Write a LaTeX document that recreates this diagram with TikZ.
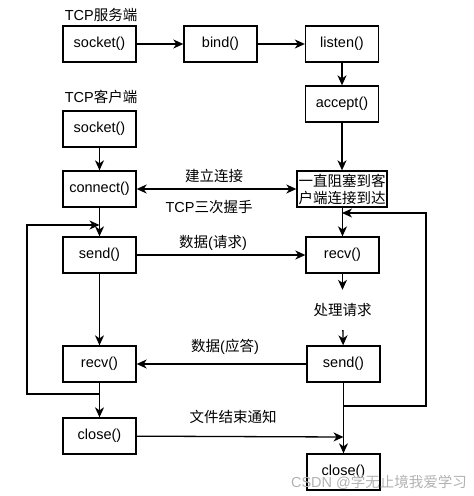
\documentclass[tikz,border=0pt]{standalone}
\usepackage{fontspec}
\setmainfont{Liberation Sans}
\newfontfamily\cjk{Noto Sans CJK SC}
\usetikzlibrary{arrows.meta}
\tikzset{
  box/.style={draw, line width=1.3pt, minimum width=73pt, minimum height=36pt, inner sep=0pt, font=\fontsize{14.5}{17}\selectfont},
  lbl/.style={inner sep=0pt, font=\fontsize{14.5}{17}\selectfont},
  arr/.style={line width=1.3pt, -{Stealth[length=10pt,width=9pt,inset=3pt]}},
  darr/.style={line width=1.3pt, {Stealth[length=10pt,width=9pt,inset=3pt]}-{Stealth[length=10pt,width=9pt,inset=3pt]}},
  ln/.style={line width=1.3pt},
}
\begin{document}
\begin{tikzpicture}[x=1pt,y=-1pt]
\useasboundingbox (0,0) rectangle (474,496);
% labels
\node[lbl] (tserv) at (101,15) {TCP{\cjk 服务端}};
\node[lbl] (tcli) at (101,97) {TCP{\cjk 客户端}};
% server column
\node[box] (ssock) at (99.5,44) {socket()};
\node[box] (bind) at (220.5,44) {bind()};
\node[box] (listen) at (342,44) {listen()};
\node[box] (accept) at (342,104) {accept()};
\node[box, minimum width=90pt, font=\cjk\fontsize{14.5}{17}\selectfont, align=center] (block) at (342,189) {一直阻塞到客\\户端连接到达};
\node[box] (srecv) at (342.5,255) {recv()};
\node[lbl, minimum height=40pt] (proc) at (342.5,310) {\cjk 处理请求};
\node[box] (ssend) at (343.5,364) {send()};
\node[box] (sclose) at (343.5,472) {close()};
% client column
\node[box] (csock) at (99.5,129) {socket()};
\node[box] (connect) at (99.5,189) {connect()};
\node[box] (csend) at (99.5,255) {send()};
\node[box] (crecv) at (99.5,364) {recv()};
\node[box] (cclose) at (99.5,436) {close()};
% edge labels
\node[lbl] (l1) at (214,176) {\cjk 建立连接};
\node[lbl] (l2) at (209,207) {TCP{\cjk 三次握手}};
\node[lbl] (l3) at (213,243) {{\cjk 数据}({\cjk 请求})};
\node[lbl] (l4) at (225,347) {{\cjk 数据}({\cjk 应答})};
\node[lbl] (l5) at (233,417) {\cjk 文件结束通知};
\node[lbl, text=black!30, font=\fontsize{14.5}{17}\selectfont] (wm) at (379,482) {CSDN @{\cjk 学无止境我爱学习}};
% coordinates
\coordinate (rj1) at (343.5,406);
\coordinate (rj2) at (426,406);
\coordinate (rj3) at (426,213);
\coordinate (rj4) at (342,213);
\coordinate (lj1) at (99.5,394);
\coordinate (lj2) at (27,394);
\coordinate (lj3) at (27,225);
\coordinate (lj4) at (99.5,225);
\coordinate (cl) at (343.5,437);
% connectors
\draw[arr] (ssock) -- (bind);
\draw[arr] (bind) -- (listen);
\draw[arr] (listen) -- (accept);
\draw[arr] (accept) -- (block);
\draw[arr] (csock) -- (connect);
\draw[darr] (connect) -- (block);
\draw[arr] (connect) -- (csend);
\draw[arr] (csend) -- (crecv);
\draw[arr] (crecv) -- (cclose);
\draw[arr] (block.south -| srecv) -- (srecv);
\draw[arr] (srecv) -- (proc);
\draw[arr] (proc) -- (ssend);
\draw[arr] (ssend) -- (sclose);
\draw[arr] (csend) -- (srecv);
\draw[arr] (ssend) -- (crecv);
\draw[arr] (cclose) -- (cl);
\draw[arr] (rj1) -- (rj2) -- (rj3) -- (rj4);
\draw[arr] (lj1) -- (lj2) -- (lj3) -- (lj4);
\end{tikzpicture}
\end{document}
